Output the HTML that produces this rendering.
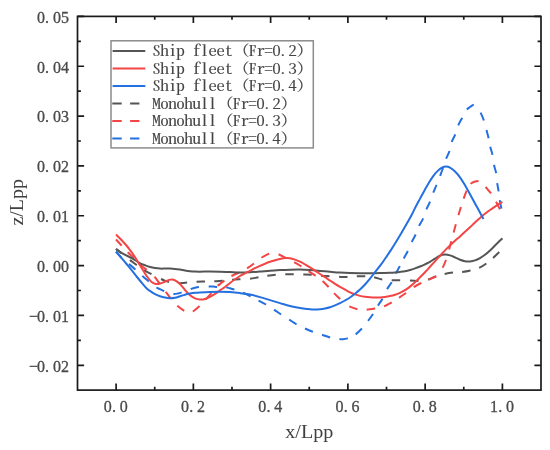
<!DOCTYPE html>
<html><head><meta charset="utf-8"><title>z/Lpp vs x/Lpp</title>
<style>html,body{margin:0;padding:0;background:#fff;width:550px;height:450px;overflow:hidden}svg{display:block}</style>
</head><body>
<svg width="550" height="450" viewBox="0 0 550 450">
<rect width="550" height="450" fill="#fff"/>
<path d="M116.00,249.00 C116.78,249.60 119.20,251.43 120.70,252.60 C122.20,253.77 123.45,254.75 125.00,256.00 C126.55,257.25 128.05,258.60 130.00,260.10 C131.95,261.60 135.03,263.77 136.70,265.00 C138.37,266.23 138.60,266.53 140.00,267.50 C141.40,268.47 143.43,269.82 145.10,270.80 C146.77,271.78 148.35,272.53 150.00,273.40 C151.65,274.27 153.17,275.07 155.00,276.00 C156.83,276.93 159.33,278.23 161.00,279.00 C162.67,279.77 163.67,280.10 165.00,280.60 C166.33,281.10 167.50,281.60 169.00,282.00 C170.50,282.40 172.33,282.78 174.00,283.00 C175.67,283.22 177.50,283.30 179.00,283.30 C180.50,283.30 181.67,283.13 183.00,283.00 C184.33,282.87 185.50,282.67 187.00,282.50 C188.50,282.33 190.42,282.12 192.00,282.00 C193.58,281.88 194.33,281.88 196.50,281.80 C198.67,281.72 202.00,281.60 205.00,281.50 C208.00,281.40 211.58,281.32 214.50,281.20 C217.42,281.08 219.50,281.03 222.50,280.80 C225.50,280.57 229.58,280.05 232.50,279.80 C235.42,279.55 237.08,279.47 240.00,279.30 C242.92,279.13 246.92,279.13 250.00,278.80 C253.08,278.47 255.58,277.80 258.50,277.30 C261.42,276.80 264.67,276.22 267.50,275.80 C270.33,275.38 272.50,275.07 275.50,274.80 C278.50,274.53 282.50,274.28 285.50,274.20 C288.50,274.12 290.50,274.25 293.50,274.30 C296.50,274.35 300.50,274.42 303.50,274.50 C306.50,274.58 308.58,274.60 311.50,274.80 C314.42,275.00 318.00,275.47 321.00,275.70 C324.00,275.93 326.50,276.02 329.50,276.20 C332.50,276.38 336.00,276.65 339.00,276.80 C342.00,276.95 344.50,277.18 347.50,277.10 C350.50,277.02 354.08,276.43 357.00,276.30 C359.92,276.17 362.17,276.15 365.00,276.30 C367.83,276.45 371.12,276.65 374.00,277.20 C376.88,277.75 379.38,279.08 382.30,279.60 C385.22,280.12 388.47,280.18 391.50,280.30 C394.53,280.42 397.38,280.28 400.50,280.30 C403.62,280.32 407.28,280.28 410.20,280.40 C413.12,280.52 415.87,280.97 418.00,281.00 C420.13,281.03 421.33,280.85 423.00,280.60 C424.67,280.35 425.83,280.18 428.00,279.50 C430.17,278.82 433.25,277.42 436.00,276.50 C438.75,275.58 441.67,274.67 444.50,274.00 C447.33,273.33 450.08,272.83 453.00,272.50 C455.92,272.17 459.08,272.33 462.00,272.00 C464.92,271.67 467.67,271.17 470.50,270.50 C473.33,269.83 476.42,269.12 479.00,268.00 C481.58,266.88 483.67,265.47 486.00,263.80 C488.33,262.13 490.83,259.93 493.00,258.00 C495.17,256.07 497.43,253.70 499.00,252.20 C500.57,250.70 501.83,249.53 502.40,249.00" fill="none" stroke="#555555" stroke-width="2.00" stroke-dasharray="0.00 0.00 7.21 10.56 8.50 8.90 8.50 10.64 8.50 9.80 8.50 9.42 8.50 9.26 8.50 9.31 8.50 9.59 8.50 8.97 8.50 9.55 8.50 9.51 8.50 9.30 8.50 9.53 8.50 9.29 8.50 8.88 8.50 9.44 8.50 9.73 8.50 9.75 8.50 9.04 8.50 9.15 8.50 9.00 8.50 8.72 8.50 456.07" stroke-linejoin="round"/>
<path d="M116.00,239.50 C116.92,240.50 120.00,243.83 121.50,245.50 C123.00,247.17 123.92,248.33 125.00,249.50 C126.08,250.67 126.67,251.25 128.00,252.50 C129.33,253.75 131.58,255.67 133.00,257.00 C134.42,258.33 135.37,259.28 136.50,260.50 C137.63,261.72 138.63,263.13 139.80,264.30 C140.97,265.47 142.25,266.53 143.50,267.50 C144.75,268.47 145.97,269.10 147.30,270.10 C148.63,271.10 150.17,272.23 151.50,273.50 C152.83,274.77 154.07,276.18 155.30,277.70 C156.53,279.22 157.78,281.05 158.90,282.60 C160.02,284.15 160.90,285.52 162.00,287.00 C163.10,288.48 164.00,289.50 165.50,291.50 C167.00,293.50 169.58,297.17 171.00,299.00 C172.42,300.83 173.00,301.42 174.00,302.50 C175.00,303.58 175.25,304.08 177.00,305.50 C178.75,306.92 182.50,309.78 184.50,311.00 C186.50,312.22 187.58,312.72 189.00,312.80 C190.42,312.88 191.33,312.55 193.00,311.50 C194.67,310.45 197.50,307.92 199.00,306.50 C200.50,305.08 200.92,304.17 202.00,303.00 C203.08,301.83 203.92,301.17 205.50,299.50 C207.08,297.83 210.00,294.67 211.50,293.00 C213.00,291.33 213.50,290.67 214.50,289.50 C215.50,288.33 215.83,287.50 217.50,286.00 C219.17,284.50 222.75,281.83 224.50,280.50 C226.25,279.17 226.83,278.75 228.00,278.00 C229.17,277.25 229.67,276.92 231.50,276.00 C233.33,275.08 237.08,273.37 239.00,272.50 C240.92,271.63 241.67,271.47 243.00,270.80 C244.33,270.13 245.17,269.72 247.00,268.50 C248.83,267.28 252.25,264.83 254.00,263.50 C255.75,262.17 256.33,261.42 257.50,260.50 C258.67,259.58 259.00,259.17 261.00,258.00 C263.00,256.83 267.33,254.40 269.50,253.50 C271.67,252.60 272.50,252.48 274.00,252.60 C275.50,252.72 276.50,253.30 278.50,254.20 C280.50,255.10 284.08,257.03 286.00,258.00 C287.92,258.97 288.67,259.33 290.00,260.00 C291.33,260.67 292.08,260.92 294.00,262.00 C295.92,263.08 299.67,265.37 301.50,266.50 C303.33,267.63 303.83,268.05 305.00,268.80 C306.17,269.55 306.75,269.83 308.50,271.00 C310.25,272.17 313.75,274.60 315.50,275.80 C317.25,277.00 317.83,277.33 319.00,278.20 C320.17,279.07 320.92,279.53 322.50,281.00 C324.08,282.47 326.58,285.00 328.50,287.00 C330.42,289.00 332.08,291.00 334.00,293.00 C335.92,295.00 338.25,297.25 340.00,299.00 C341.75,300.75 343.00,302.28 344.50,303.50 C346.00,304.72 346.83,305.35 349.00,306.30 C351.17,307.25 355.33,308.62 357.50,309.20 C359.67,309.78 360.50,309.70 362.00,309.80 C363.50,309.90 364.33,310.02 366.50,309.80 C368.67,309.58 372.83,308.87 375.00,308.50 C377.17,308.13 378.00,307.97 379.50,307.60 C381.00,307.23 382.00,307.15 384.00,306.30 C386.00,305.45 389.67,303.48 391.50,302.50 C393.33,301.52 393.75,301.18 395.00,300.40 C396.25,299.62 397.17,299.03 399.00,297.80 C400.83,296.57 404.17,294.33 406.00,293.00 C407.83,291.67 408.75,290.77 410.00,289.80 C411.25,288.83 411.67,288.33 413.50,287.20 C415.33,286.07 419.08,283.97 421.00,283.00 C422.92,282.03 423.75,281.93 425.00,281.40 C426.25,280.87 426.58,280.70 428.50,279.80 C430.42,278.90 434.58,277.22 436.50,276.00 C438.42,274.78 439.00,273.83 440.00,272.50 C441.00,271.17 441.50,270.08 442.50,268.00 C443.50,265.92 444.83,263.33 446.00,260.00 C447.17,256.67 448.33,252.17 449.50,248.00 C450.67,243.83 451.83,239.33 453.00,235.00 C454.17,230.67 455.33,226.17 456.50,222.00 C457.67,217.83 458.83,213.83 460.00,210.00 C461.17,206.17 462.33,202.33 463.50,199.00 C464.67,195.67 465.83,192.50 467.00,190.00 C468.17,187.50 469.17,185.42 470.50,184.00 C471.83,182.58 473.50,182.00 475.00,181.50 C476.50,181.00 478.25,180.83 479.50,181.00 C480.75,181.17 481.58,181.67 482.50,182.50 C483.42,183.33 484.08,184.78 485.00,186.00 C485.92,187.22 487.00,188.55 488.00,189.80 C489.00,191.05 490.00,192.13 491.00,193.50 C492.00,194.87 493.00,196.33 494.00,198.00 C495.00,199.67 496.00,201.58 497.00,203.50 C498.00,205.42 499.50,208.50 500.00,209.50" fill="none" stroke="#f34545" stroke-width="2.00" stroke-dasharray="0.00 0.00 8.32 9.04 8.50 9.05 8.50 10.37 8.50 10.27 8.50 9.67 8.50 9.41 8.50 9.24 8.50 9.60 8.50 8.43 8.50 8.91 8.50 9.53 8.50 9.97 8.50 9.02 8.50 8.44 8.50 8.72 8.50 8.13 8.50 11.93 8.50 9.35 8.50 9.29 8.50 8.72 8.50 9.70 8.50 8.02 8.50 10.74 8.50 10.87 8.50 9.05 8.50 9.45 8.50 8.88 8.50 7.93 8.50 9.77 8.50 9.73 8.50 595.06" stroke-linejoin="round"/>
<path d="M116.00,251.50 C116.93,252.57 120.10,256.32 121.60,257.90 C123.10,259.48 123.75,259.97 125.00,261.00 C126.25,262.03 127.38,262.70 129.10,264.10 C130.82,265.50 133.65,267.95 135.30,269.40 C136.95,270.85 137.82,271.68 139.00,272.80 C140.18,273.92 140.78,274.67 142.40,276.10 C144.02,277.53 147.10,280.03 148.70,281.40 C150.30,282.77 150.70,283.28 152.00,284.30 C153.30,285.32 155.17,286.68 156.50,287.50 C157.83,288.32 158.75,288.62 160.00,289.20 C161.25,289.78 162.67,290.40 164.00,291.00 C165.33,291.60 166.42,292.30 168.00,292.80 C169.58,293.30 171.83,293.88 173.50,294.00 C175.17,294.12 176.67,293.75 178.00,293.50 C179.33,293.25 180.17,292.95 181.50,292.50 C182.83,292.05 184.50,291.35 186.00,290.80 C187.50,290.25 189.00,289.70 190.50,289.20 C192.00,288.70 193.58,288.17 195.00,287.80 C196.42,287.43 197.50,287.20 199.00,287.00 C200.50,286.80 202.33,286.68 204.00,286.60 C205.67,286.52 207.50,286.50 209.00,286.50 C210.50,286.50 211.67,286.52 213.00,286.60 C214.33,286.68 215.50,286.93 217.00,287.00 C218.50,287.07 220.50,286.97 222.00,287.00 C223.50,287.03 224.67,286.98 226.00,287.20 C227.33,287.42 228.58,287.92 230.00,288.30 C231.42,288.68 232.83,288.97 234.50,289.50 C236.17,290.03 238.25,290.83 240.00,291.50 C241.75,292.17 243.33,292.75 245.00,293.50 C246.67,294.25 248.50,295.20 250.00,296.00 C251.50,296.80 252.58,297.55 254.00,298.30 C255.42,299.05 256.50,299.47 258.50,300.50 C260.50,301.53 264.08,303.42 266.00,304.50 C267.92,305.58 268.67,306.17 270.00,307.00 C271.33,307.83 272.17,308.25 274.00,309.50 C275.83,310.75 279.17,313.25 281.00,314.50 C282.83,315.75 283.67,316.17 285.00,317.00 C286.33,317.83 287.17,318.33 289.00,319.50 C290.83,320.67 294.17,322.88 296.00,324.00 C297.83,325.12 298.50,325.45 300.00,326.20 C301.50,326.95 302.83,327.57 305.00,328.50 C307.17,329.43 310.83,330.97 313.00,331.80 C315.17,332.63 316.50,333.02 318.00,333.50 C319.50,333.98 320.00,334.03 322.00,334.70 C324.00,335.37 327.83,336.85 330.00,337.50 C332.17,338.15 333.42,338.33 335.00,338.60 C336.58,338.87 338.17,339.00 339.50,339.10 C340.83,339.20 341.67,339.32 343.00,339.20 C344.33,339.08 346.17,338.77 347.50,338.40 C348.83,338.03 349.67,337.65 351.00,337.00 C352.33,336.35 353.67,335.92 355.50,334.50 C357.33,333.08 360.42,330.08 362.00,328.50 C363.58,326.92 364.00,326.25 365.00,325.00 C366.00,323.75 366.67,322.83 368.00,321.00 C369.33,319.17 371.33,316.58 373.00,314.00 C374.67,311.42 376.50,307.92 378.00,305.50 C379.50,303.08 380.58,302.08 382.00,299.50 C383.42,296.92 384.92,292.83 386.50,290.00 C388.08,287.17 389.98,285.20 391.50,282.50 C393.02,279.80 394.22,276.50 395.60,273.80 C396.98,271.10 398.48,268.77 399.80,266.30 C401.12,263.83 402.13,261.62 403.50,259.00 C404.87,256.38 406.67,253.35 408.00,250.60 C409.33,247.85 410.22,245.18 411.50,242.50 C412.78,239.82 414.48,237.20 415.70,234.50 C416.92,231.80 417.53,229.02 418.80,226.30 C420.07,223.58 422.07,220.97 423.30,218.20 C424.53,215.43 425.08,212.45 426.20,209.70 C427.32,206.95 428.83,204.52 430.00,201.70 C431.17,198.88 432.12,195.58 433.20,192.80 C434.28,190.02 435.37,187.80 436.50,185.00 C437.63,182.20 438.92,178.83 440.00,176.00 C441.08,173.17 442.00,170.83 443.00,168.00 C444.00,165.17 444.92,161.83 446.00,159.00 C447.08,156.17 448.57,153.78 449.50,151.00 C450.43,148.22 450.63,145.08 451.60,142.30 C452.57,139.52 454.20,137.10 455.30,134.30 C456.40,131.50 457.07,128.22 458.20,125.50 C459.33,122.78 460.77,120.53 462.10,118.00 C463.43,115.47 464.88,112.13 466.20,110.30 C467.52,108.47 468.67,107.97 470.00,107.00 C471.33,106.03 473.03,104.75 474.20,104.50 C475.37,104.25 475.97,104.22 477.00,105.50 C478.03,106.78 479.25,109.70 480.40,112.20 C481.55,114.70 482.92,117.67 483.90,120.50 C484.88,123.33 485.50,126.18 486.30,129.20 C487.10,132.22 488.05,135.70 488.70,138.60 C489.35,141.50 489.58,143.93 490.20,146.60 C490.82,149.27 491.77,151.53 492.40,154.60 C493.03,157.67 493.40,162.02 494.00,165.00 C494.60,167.98 495.50,169.67 496.00,172.50 C496.50,175.33 496.60,179.08 497.00,182.00 C497.40,184.92 497.95,187.00 498.40,190.00 C498.85,193.00 499.18,196.83 499.70,200.00 C500.22,203.17 501.20,207.50 501.50,209.00" fill="none" stroke="#2570e0" stroke-width="2.00" stroke-dasharray="0.00 0.00 8.50 9.58 8.50 9.46 8.50 9.68 8.50 9.77 8.50 9.58 8.50 9.70 8.50 9.16 8.50 9.05 8.50 9.05 8.50 9.49 8.50 9.74 8.50 9.55 8.50 9.70 8.50 9.43 8.50 8.91 8.50 9.84 8.50 9.61 8.50 10.38 8.50 9.45 8.50 8.63 8.50 9.72 8.50 9.31 8.50 9.66 8.50 9.51 8.50 9.66 8.50 9.63 8.50 9.24 8.50 9.41 8.50 9.45 8.50 11.74 8.50 9.88 8.50 8.64 8.50 10.06 8.50 10.06 8.50 8.74 8.50 691.26" stroke-linejoin="round"/>
<path d="M116.00,249.00 C117.22,249.82 120.60,252.35 123.30,253.90 C126.00,255.45 129.53,256.82 132.20,258.30 C134.87,259.78 137.17,261.65 139.30,262.80 C141.43,263.95 143.22,264.50 145.00,265.20 C146.78,265.90 148.33,266.52 150.00,267.00 C151.67,267.48 153.33,267.83 155.00,268.10 C156.67,268.37 158.33,268.52 160.00,268.60 C161.67,268.68 163.33,268.60 165.00,268.60 C166.67,268.60 168.33,268.55 170.00,268.60 C171.67,268.65 173.33,268.73 175.00,268.90 C176.67,269.07 178.33,269.33 180.00,269.60 C181.67,269.87 183.33,270.23 185.00,270.50 C186.67,270.77 188.33,271.02 190.00,271.20 C191.67,271.38 193.33,271.52 195.00,271.60 C196.67,271.68 197.50,271.72 200.00,271.70 C202.50,271.68 206.67,271.50 210.00,271.50 C213.33,271.50 216.67,271.60 220.00,271.70 C223.33,271.80 226.67,271.97 230.00,272.10 C233.33,272.23 236.67,272.48 240.00,272.50 C243.33,272.52 246.67,272.37 250.00,272.20 C253.33,272.03 256.67,271.75 260.00,271.50 C263.33,271.25 266.67,270.93 270.00,270.70 C273.33,270.47 276.67,270.27 280.00,270.10 C283.33,269.93 286.67,269.78 290.00,269.70 C293.33,269.62 296.67,269.53 300.00,269.60 C303.33,269.67 306.67,269.88 310.00,270.10 C313.33,270.32 316.67,270.62 320.00,270.90 C323.33,271.18 326.67,271.52 330.00,271.80 C333.33,272.08 336.67,272.38 340.00,272.60 C343.33,272.82 346.67,272.98 350.00,273.10 C353.33,273.22 356.67,273.27 360.00,273.30 C363.33,273.33 366.67,273.33 370.00,273.30 C373.33,273.27 376.67,273.20 380.00,273.10 C383.33,273.00 387.50,272.82 390.00,272.70 C392.50,272.58 393.33,272.53 395.00,272.40 C396.67,272.27 398.33,272.10 400.00,271.90 C401.67,271.70 403.33,271.52 405.00,271.20 C406.67,270.88 408.33,270.47 410.00,270.00 C411.67,269.53 413.33,268.98 415.00,268.40 C416.67,267.82 418.33,267.18 420.00,266.50 C421.67,265.82 423.33,265.08 425.00,264.30 C426.67,263.52 428.33,262.75 430.00,261.80 C431.67,260.85 433.33,259.62 435.00,258.60 C436.67,257.58 438.33,256.37 440.00,255.70 C441.67,255.03 443.33,254.65 445.00,254.60 C446.67,254.55 448.33,254.93 450.00,255.40 C451.67,255.87 453.33,256.67 455.00,257.40 C456.67,258.13 458.33,259.17 460.00,259.80 C461.67,260.43 463.33,260.93 465.00,261.20 C466.67,261.47 468.33,261.53 470.00,261.40 C471.67,261.27 473.33,260.95 475.00,260.40 C476.67,259.85 478.33,259.03 480.00,258.10 C481.67,257.17 483.33,256.07 485.00,254.80 C486.67,253.53 488.33,252.05 490.00,250.50 C491.67,248.95 493.33,247.17 495.00,245.50 C496.67,243.83 498.77,241.70 500.00,240.50 C501.23,239.30 502.00,238.67 502.40,238.30" fill="none" stroke="#555555" stroke-width="2.00" stroke-linejoin="round"/>
<path d="M116.00,234.50 C116.83,235.33 119.33,237.75 121.00,239.50 C122.67,241.25 124.50,243.25 126.00,245.00 C127.50,246.75 128.73,248.33 130.00,250.00 C131.27,251.67 132.27,252.98 133.60,255.00 C134.93,257.02 136.53,259.73 138.00,262.10 C139.47,264.47 140.92,266.83 142.40,269.20 C143.88,271.57 145.42,274.22 146.90,276.30 C148.38,278.38 149.82,280.43 151.30,281.70 C152.78,282.97 154.32,283.60 155.80,283.90 C157.28,284.20 158.72,283.87 160.20,283.50 C161.68,283.13 163.22,282.30 164.70,281.70 C166.18,281.10 167.88,280.28 169.10,279.90 C170.32,279.52 171.02,279.33 172.00,279.40 C172.98,279.47 173.67,279.53 175.00,280.30 C176.33,281.07 178.33,282.38 180.00,284.00 C181.67,285.62 183.33,288.12 185.00,290.00 C186.67,291.88 188.33,293.92 190.00,295.30 C191.67,296.68 193.33,297.60 195.00,298.30 C196.67,299.00 198.33,299.38 200.00,299.50 C201.67,299.62 203.33,299.45 205.00,299.00 C206.67,298.55 208.33,297.67 210.00,296.80 C211.67,295.93 213.33,294.88 215.00,293.80 C216.67,292.72 218.33,291.43 220.00,290.30 C221.67,289.17 223.33,288.22 225.00,287.00 C226.67,285.78 228.33,284.28 230.00,283.00 C231.67,281.72 233.33,280.47 235.00,279.30 C236.67,278.13 238.33,277.00 240.00,276.00 C241.67,275.00 243.33,274.17 245.00,273.30 C246.67,272.43 248.33,271.65 250.00,270.80 C251.67,269.95 253.33,269.03 255.00,268.20 C256.67,267.37 258.33,266.55 260.00,265.80 C261.67,265.05 263.33,264.37 265.00,263.70 C266.67,263.03 268.33,262.38 270.00,261.80 C271.67,261.22 273.33,260.68 275.00,260.20 C276.67,259.72 278.33,259.27 280.00,258.90 C281.67,258.53 283.33,258.10 285.00,258.00 C286.67,257.90 288.33,258.03 290.00,258.30 C291.67,258.57 293.33,259.05 295.00,259.60 C296.67,260.15 298.33,260.80 300.00,261.60 C301.67,262.40 303.33,263.43 305.00,264.40 C306.67,265.37 308.33,266.37 310.00,267.40 C311.67,268.43 313.33,269.50 315.00,270.60 C316.67,271.70 318.33,272.90 320.00,274.00 C321.67,275.10 323.33,276.12 325.00,277.20 C326.67,278.28 328.33,279.40 330.00,280.50 C331.67,281.60 333.33,282.75 335.00,283.80 C336.67,284.85 338.33,285.83 340.00,286.80 C341.67,287.77 343.33,288.68 345.00,289.60 C346.67,290.52 348.33,291.50 350.00,292.30 C351.67,293.10 353.33,293.80 355.00,294.40 C356.67,295.00 358.33,295.50 360.00,295.90 C361.67,296.30 363.33,296.57 365.00,296.80 C366.67,297.03 368.33,297.18 370.00,297.30 C371.67,297.42 373.33,297.48 375.00,297.50 C376.67,297.52 378.33,297.50 380.00,297.40 C381.67,297.30 383.33,297.13 385.00,296.90 C386.67,296.67 388.33,296.37 390.00,296.00 C391.67,295.63 393.33,295.23 395.00,294.70 C396.67,294.17 398.33,293.55 400.00,292.80 C401.67,292.05 403.33,291.23 405.00,290.20 C406.67,289.17 408.33,287.93 410.00,286.60 C411.67,285.27 413.33,283.75 415.00,282.20 C416.67,280.65 418.33,278.97 420.00,277.30 C421.67,275.63 423.33,273.95 425.00,272.20 C426.67,270.45 428.33,268.62 430.00,266.80 C431.67,264.98 433.33,263.13 435.00,261.30 C436.67,259.47 438.33,257.62 440.00,255.80 C441.67,253.98 443.33,252.13 445.00,250.40 C446.67,248.67 448.33,247.00 450.00,245.40 C451.67,243.80 453.33,242.30 455.00,240.80 C456.67,239.30 458.33,237.90 460.00,236.40 C461.67,234.90 463.33,233.33 465.00,231.80 C466.67,230.27 468.33,228.75 470.00,227.20 C471.67,225.65 473.33,224.03 475.00,222.50 C476.67,220.97 478.33,219.45 480.00,218.00 C481.67,216.55 483.33,215.13 485.00,213.80 C486.67,212.47 488.33,211.20 490.00,210.00 C491.67,208.80 493.33,207.70 495.00,206.60 C496.67,205.50 498.77,204.22 500.00,203.40 C501.23,202.58 502.00,201.98 502.40,201.70" fill="none" stroke="#f34545" stroke-width="2.00" stroke-linejoin="round"/>
<path d="M116.00,251.80 C116.67,252.55 118.78,254.92 120.00,256.30 C121.22,257.68 122.13,258.73 123.30,260.10 C124.47,261.47 125.52,262.72 127.00,264.50 C128.48,266.28 130.53,268.72 132.20,270.80 C133.87,272.88 135.22,274.78 137.00,277.00 C138.78,279.22 141.23,282.15 142.90,284.10 C144.57,286.05 145.82,287.57 147.00,288.70 C148.18,289.83 148.67,290.00 150.00,290.90 C151.33,291.80 153.33,293.22 155.00,294.10 C156.67,294.98 158.33,295.62 160.00,296.20 C161.67,296.78 163.33,297.25 165.00,297.60 C166.67,297.95 168.33,298.27 170.00,298.30 C171.67,298.33 173.33,298.13 175.00,297.80 C176.67,297.47 178.33,296.82 180.00,296.30 C181.67,295.78 183.33,295.15 185.00,294.70 C186.67,294.25 188.33,293.92 190.00,293.60 C191.67,293.28 193.33,293.00 195.00,292.80 C196.67,292.60 197.50,292.55 200.00,292.40 C202.50,292.25 206.67,292.02 210.00,291.90 C213.33,291.78 216.67,291.67 220.00,291.70 C223.33,291.73 226.67,291.87 230.00,292.10 C233.33,292.33 236.67,292.68 240.00,293.10 C243.33,293.52 246.67,293.93 250.00,294.60 C253.33,295.27 256.67,296.18 260.00,297.10 C263.33,298.02 266.67,299.10 270.00,300.10 C273.33,301.10 276.67,302.12 280.00,303.10 C283.33,304.08 286.67,305.20 290.00,306.00 C293.33,306.80 296.67,307.37 300.00,307.90 C303.33,308.43 307.50,308.95 310.00,309.20 C312.50,309.45 313.33,309.40 315.00,309.40 C316.67,309.40 318.33,309.35 320.00,309.20 C321.67,309.05 323.33,308.82 325.00,308.50 C326.67,308.18 328.33,307.82 330.00,307.30 C331.67,306.78 333.33,306.08 335.00,305.40 C336.67,304.72 338.33,304.02 340.00,303.20 C341.67,302.38 343.33,301.45 345.00,300.50 C346.67,299.55 348.33,298.63 350.00,297.50 C351.67,296.37 353.33,295.03 355.00,293.70 C356.67,292.37 358.33,291.03 360.00,289.50 C361.67,287.97 363.33,286.32 365.00,284.50 C366.67,282.68 368.33,280.65 370.00,278.60 C371.67,276.55 373.15,274.57 375.00,272.20 C376.85,269.83 379.25,266.90 381.10,264.40 C382.95,261.90 384.33,259.78 386.10,257.20 C387.87,254.62 389.85,251.77 391.70,248.90 C393.55,246.03 395.35,243.05 397.20,240.00 C399.05,236.95 400.95,233.75 402.80,230.60 C404.65,227.45 406.77,223.82 408.30,221.10 C409.83,218.38 410.77,216.68 412.00,214.30 C413.23,211.92 414.35,209.42 415.70,206.80 C417.05,204.18 418.63,201.33 420.10,198.60 C421.57,195.87 423.02,193.08 424.50,190.40 C425.98,187.72 427.52,184.93 429.00,182.50 C430.48,180.07 431.90,177.78 433.40,175.80 C434.90,173.82 436.57,171.97 438.00,170.60 C439.43,169.23 440.67,168.30 442.00,167.60 C443.33,166.90 444.67,166.40 446.00,166.40 C447.33,166.40 448.50,166.75 450.00,167.60 C451.50,168.45 453.33,169.88 455.00,171.50 C456.67,173.12 458.33,175.00 460.00,177.30 C461.67,179.60 463.33,182.48 465.00,185.30 C466.67,188.12 468.33,191.18 470.00,194.20 C471.67,197.22 473.33,200.33 475.00,203.40 C476.67,206.47 478.58,210.00 480.00,212.60 C481.42,215.20 482.92,217.93 483.50,219.00" fill="none" stroke="#2570e0" stroke-width="2.00" stroke-linejoin="round"/>
<rect x="77.50" y="16.40" width="463.50" height="373.70" fill="none" stroke="#1a1a1a" stroke-width="1.7"/>
<path d="M116.10,390.10V383.50M116.10,16.40V23.00M193.36,390.10V383.50M193.36,16.40V23.00M270.62,390.10V383.50M270.62,16.40V23.00M347.88,390.10V383.50M347.88,16.40V23.00M425.14,390.10V383.50M425.14,16.40V23.00M502.40,390.10V383.50M502.40,16.40V23.00M154.73,390.10V386.70M154.73,16.40V19.80M231.99,390.10V386.70M231.99,16.40V19.80M309.25,390.10V386.70M309.25,16.40V19.80M386.51,390.10V386.70M386.51,16.40V19.80M463.77,390.10V386.70M463.77,16.40V19.80M77.50,365.28H84.10M541.00,365.28H534.40M77.50,315.44H84.10M541.00,315.44H534.40M77.50,265.60H84.10M541.00,265.60H534.40M77.50,215.76H84.10M541.00,215.76H534.40M77.50,165.92H84.10M541.00,165.92H534.40M77.50,116.08H84.10M541.00,116.08H534.40M77.50,66.24H84.10M541.00,66.24H534.40M77.50,16.40H84.10M541.00,16.40H534.40M77.50,340.36H80.90M541.00,340.36H537.60M77.50,290.52H80.90M541.00,290.52H537.60M77.50,240.68H80.90M541.00,240.68H537.60M77.50,190.84H80.90M541.00,190.84H537.60M77.50,141.00H80.90M541.00,141.00H537.60M77.50,91.16H80.90M541.00,91.16H537.60M77.50,41.32H80.90M541.00,41.32H537.60" stroke="#1a1a1a" stroke-width="1.7" fill="none"/>
<text x="29.00 37.00 45.10 53.00 61.00" y="353.98" transform="scale(1,1.050)" style="font-family:'Liberation Serif',serif;font-size:16px;fill:#4a4a4a;stroke:#4a4a4a;stroke-width:0.3">−0.02</text>
<text x="29.00 37.00 45.10 53.00 61.00" y="306.51" transform="scale(1,1.050)" style="font-family:'Liberation Serif',serif;font-size:16px;fill:#4a4a4a;stroke:#4a4a4a;stroke-width:0.3">−0.01</text>
<text x="37.00 45.10 53.00 61.00" y="259.05" transform="scale(1,1.050)" style="font-family:'Liberation Serif',serif;font-size:16px;fill:#4a4a4a;stroke:#4a4a4a;stroke-width:0.3">0.00</text>
<text x="37.00 45.10 53.00 61.00" y="211.58" transform="scale(1,1.050)" style="font-family:'Liberation Serif',serif;font-size:16px;fill:#4a4a4a;stroke:#4a4a4a;stroke-width:0.3">0.01</text>
<text x="37.00 45.10 53.00 61.00" y="164.11" transform="scale(1,1.050)" style="font-family:'Liberation Serif',serif;font-size:16px;fill:#4a4a4a;stroke:#4a4a4a;stroke-width:0.3">0.02</text>
<text x="37.00 45.10 53.00 61.00" y="116.65" transform="scale(1,1.050)" style="font-family:'Liberation Serif',serif;font-size:16px;fill:#4a4a4a;stroke:#4a4a4a;stroke-width:0.3">0.03</text>
<text x="37.00 45.10 53.00 61.00" y="69.18" transform="scale(1,1.050)" style="font-family:'Liberation Serif',serif;font-size:16px;fill:#4a4a4a;stroke:#4a4a4a;stroke-width:0.3">0.04</text>
<text x="37.00 45.10 53.00 61.00" y="21.71" transform="scale(1,1.050)" style="font-family:'Liberation Serif',serif;font-size:16px;fill:#4a4a4a;stroke:#4a4a4a;stroke-width:0.3">0.05</text>
<text x="103.80 111.90 119.80" y="392.00" transform="scale(1,1.050)" style="font-family:'Liberation Serif',serif;font-size:16px;fill:#4a4a4a;stroke:#4a4a4a;stroke-width:0.3">0.0</text>
<text x="181.06 189.16 197.06" y="392.00" transform="scale(1,1.050)" style="font-family:'Liberation Serif',serif;font-size:16px;fill:#4a4a4a;stroke:#4a4a4a;stroke-width:0.3">0.2</text>
<text x="258.32 266.42 274.32" y="392.00" transform="scale(1,1.050)" style="font-family:'Liberation Serif',serif;font-size:16px;fill:#4a4a4a;stroke:#4a4a4a;stroke-width:0.3">0.4</text>
<text x="335.58 343.68 351.58" y="392.00" transform="scale(1,1.050)" style="font-family:'Liberation Serif',serif;font-size:16px;fill:#4a4a4a;stroke:#4a4a4a;stroke-width:0.3">0.6</text>
<text x="412.84 420.94 428.84" y="392.00" transform="scale(1,1.050)" style="font-family:'Liberation Serif',serif;font-size:16px;fill:#4a4a4a;stroke:#4a4a4a;stroke-width:0.3">0.8</text>
<text x="490.10 498.20 506.10" y="392.00" transform="scale(1,1.050)" style="font-family:'Liberation Serif',serif;font-size:16px;fill:#4a4a4a;stroke:#4a4a4a;stroke-width:0.3">1.0</text>
<text x="285.3" y="438.3" textLength="48" lengthAdjust="spacingAndGlyphs" style="font-family:'Liberation Serif',serif;font-size:18.5px;fill:#404040">x/Lpp</text>
<text transform="translate(23.2,225.6) rotate(-90)" x="0" y="0" textLength="46.5" lengthAdjust="spacingAndGlyphs" style="font-family:'Liberation Serif',serif;font-size:18.5px;fill:#404040">z/Lpp</text>
<rect x="111" y="40.8" width="202.3" height="107.1" fill="#fff" stroke="#8c8c8c" stroke-width="1.5"/>
<path d="M112.6,51.00H145.3" stroke="#555555" stroke-width="2.0"/>
<text x="142.36 149.83 157.31 164.79 172.26 179.74 187.21 194.69 202.17 209.64 217.38 232.07 239.55 247.03 254.50 260.37 269.46 277.20" y="61.41" transform="scale(1.070,0.920)" style="font-family:'Noto Serif CJK SC','Liberation Serif',serif;font-feature-settings:'hwid';font-size:16px;fill:#444;stroke:#444;stroke-width:0.15;">Ship fleet<tspan style="font-feature-settings:normal">（</tspan>Fr=0.2<tspan style="font-feature-settings:normal">）</tspan></text>
<path d="M112.6,68.50H145.3" stroke="#f34545" stroke-width="2.0"/>
<text x="142.36 149.83 157.31 164.79 172.26 179.74 187.21 194.69 202.17 209.64 217.38 232.07 239.55 247.03 254.50 260.37 269.46 277.20" y="80.43" transform="scale(1.070,0.920)" style="font-family:'Noto Serif CJK SC','Liberation Serif',serif;font-feature-settings:'hwid';font-size:16px;fill:#444;stroke:#444;stroke-width:0.15;">Ship fleet<tspan style="font-feature-settings:normal">（</tspan>Fr=0.3<tspan style="font-feature-settings:normal">）</tspan></text>
<path d="M112.6,86.00H145.3" stroke="#2570e0" stroke-width="2.0"/>
<text x="142.36 149.83 157.31 164.79 172.26 179.74 187.21 194.69 202.17 209.64 217.38 232.07 239.55 247.03 254.50 260.37 269.46 277.20" y="99.46" transform="scale(1.070,0.920)" style="font-family:'Noto Serif CJK SC','Liberation Serif',serif;font-feature-settings:'hwid';font-size:16px;fill:#444;stroke:#444;stroke-width:0.15;">Ship fleet<tspan style="font-feature-settings:normal">（</tspan>Fr=0.4<tspan style="font-feature-settings:normal">）</tspan></text>
<path d="M112.3,103.50H121.7M130.1,103.50H139.4" stroke="#555555" stroke-width="2.0"/>
<text x="142.36 149.83 157.31 164.79 172.26 179.74 187.21 194.69 202.43 217.12 224.60 232.07 239.55 245.42 254.50 262.24" y="118.48" transform="scale(1.070,0.920)" style="font-family:'Noto Serif CJK SC','Liberation Serif',serif;font-feature-settings:'hwid';font-size:16px;fill:#444;stroke:#444;stroke-width:0.15;">Monohull<tspan style="font-feature-settings:normal">（</tspan>Fr=0.2<tspan style="font-feature-settings:normal">）</tspan></text>
<path d="M112.3,121.00H121.7M130.1,121.00H139.4" stroke="#f34545" stroke-width="2.0"/>
<text x="142.36 149.83 157.31 164.79 172.26 179.74 187.21 194.69 202.43 217.12 224.60 232.07 239.55 245.42 254.50 262.24" y="137.50" transform="scale(1.070,0.920)" style="font-family:'Noto Serif CJK SC','Liberation Serif',serif;font-feature-settings:'hwid';font-size:16px;fill:#444;stroke:#444;stroke-width:0.15;">Monohull<tspan style="font-feature-settings:normal">（</tspan>Fr=0.3<tspan style="font-feature-settings:normal">）</tspan></text>
<path d="M112.3,138.50H121.7M130.1,138.50H139.4" stroke="#2570e0" stroke-width="2.0"/>
<text x="142.36 149.83 157.31 164.79 172.26 179.74 187.21 194.69 202.43 217.12 224.60 232.07 239.55 245.42 254.50 262.24" y="156.52" transform="scale(1.070,0.920)" style="font-family:'Noto Serif CJK SC','Liberation Serif',serif;font-feature-settings:'hwid';font-size:16px;fill:#444;stroke:#444;stroke-width:0.15;">Monohull<tspan style="font-feature-settings:normal">（</tspan>Fr=0.4<tspan style="font-feature-settings:normal">）</tspan></text>
</svg>
</body></html>
